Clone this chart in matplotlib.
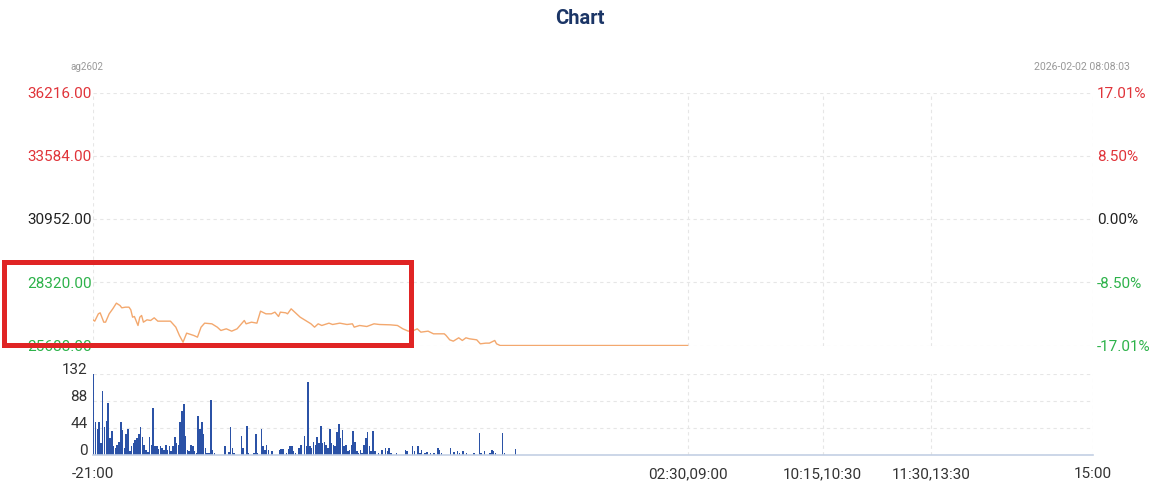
import numpy as np
import matplotlib.pyplot as plt
from matplotlib.patches import Rectangle

# -----------------------------------------
# Data (minutes since 21:00 session open)
# -----------------------------------------
session_ticks = [0, 330, 405, 465, 555]
session_labels = ["-21:00", "02:30,09:00", "10:15,10:30", "11:30,13:30", "15:00"]

pre_close = 30952.0
price_ticks = [25688.0, 28320.0, 30952.0, 33584.0, 36216.0]
volume_ticks = [0, 44, 88, 132]

price_minutes = [0, 1, 3, 4, 6, 7, 9, 11, 13, 15, 16, 18, 20, 21, 22, 23, 25, 26, 27, 28,
                 30, 32, 34, 36, 39, 43, 46, 48, 50, 52, 56, 58, 60, 62, 66, 69, 71, 74, 77, 80,
                 84, 85, 88, 91, 93, 96, 99, 101, 103, 104, 107, 108, 110, 112, 115, 118, 121, 123, 125, 127,
                 131, 133, 137, 141, 144, 145, 148, 152, 156, 159, 165, 169, 172, 175, 178, 180, 182, 186, 189, 195,
                 196, 198, 200, 203, 205, 207, 209, 213, 215, 218, 220, 223, 224, 226, 330]
price_values = [26756, 26701, 27006, 27048, 26659, 26659, 27006, 27214, 27450, 27353,
                27256, 27283, 27283, 27173, 26867, 26895, 26521, 26867, 26937, 26659,
                26756, 26729, 26840, 26701, 26701, 26701, 26451, 26104, 25827, 26202,
                26104, 26035, 26451, 26618, 26590, 26451, 26313, 26382, 26285, 26382,
                26729, 26590, 26659, 26618, 27117, 27006, 27006, 27076, 26895, 27076,
                27048, 27006, 27214, 27076, 26867, 26729, 26590, 26451, 26590, 26521,
                26618, 26562, 26618, 26562, 26590, 26451, 26521, 26479, 26590, 26562,
                26548, 26521, 26382, 26285, 26313, 26382, 26243, 26285, 26174, 26174,
                26105, 25924, 25869, 26008, 25897, 26008, 25966, 25924, 25758, 25786,
                25786, 25897, 25758, 25688, 25688]

volume = [132, 54, 43, 54, 19, 104, 46, 55, 84, 28, 39, 15, 11, 16, 22, 54, 41, 11, 35, 43,
          6, 14, 19, 24, 27, 35, 45, 30, 16, 8, 5, 30, 16, 76, 14, 14, 10, 14, 12, 8,
          17, 8, 15, 6, 15, 30, 19, 17, 54, 72, 83, 31, 8, 6, 16, 14, 6, 3, 64, 42,
          53, 35, 12, 3, 4, 90, 8, 4, 0, 0, 0, 0, 0, 15, 0, 5, 46, 12, 4, 0,
          0, 0, 31, 11, 0, 48, 4, 0, 0, 4, 35, 4, 0, 43, 15, 8, 17, 8, 0, 6,
          0, 0, 0, 8, 10, 10, 0, 4, 10, 14, 15, 6, 4, 0, 12, 16, 0, 31, 14, 119,
          14, 11, 22, 16, 30, 19, 47, 19, 22, 16, 12, 42, 19, 16, 14, 38, 50, 28, 41, 14,
          17, 6, 8, 17, 39, 21, 6, 4, 8, 4, 16, 28, 38, 14, 6, 39, 6, 0, 4, 0,
          8, 0, 12, 6, 11, 4, 0, 0, 3, 0, 0, 0, 0, 8, 6, 0, 0, 14, 6, 0,
          14, 4, 8, 0, 4, 5, 0, 4, 0, 4, 0, 11, 8, 4, 0, 0, 0, 0, 12, 0,
          5, 0, 6, 4, 0, 6, 0, 4, 0, 0, 0, 4, 0, 0, 36, 4, 0, 6, 0, 0,
          4, 8, 6, 4, 0, 0, 0, 36, 4, 0, 0, 0, 0, 0, 10, 0]

# -----------------------------------------
# Style
# -----------------------------------------
plt.rcParams["font.family"] = ["Roboto", "DejaVu Sans"]
up_color = "#e0343a"
down_color = "#2db24a"
grid_color = "#e6e6e6"

fig = plt.figure(figsize=(11.59, 5.0), dpi=100)
fig.patch.set_facecolor("white")

ax_price = fig.add_axes([0.0802, 0.309, 0.8628, 0.506])
ax_vol = fig.add_axes([0.0802, 0.090, 0.8628, 0.162])

# -----------------------------------------
# Price panel
# -----------------------------------------
ax_price.plot(price_minutes, price_values, color="#f3a86e", lw=1.0)
ax_price.set_xlim(session_ticks[0], session_ticks[-1])
ax_price.set_ylim(price_ticks[0], price_ticks[-1])
ax_price.set_yticks(price_ticks)
ax_price.set_yticklabels([f"{p:.2f}" for p in price_ticks])
ax_price.set_xticks(session_ticks)
ax_price.set_xticklabels([])
ax_price.tick_params(length=0, pad=1, labelsize=11)
for lbl, p in zip(ax_price.get_yticklabels(), price_ticks):
    lbl.set_color(up_color if p > pre_close else down_color if p < pre_close else "#222222")
ax_price.grid(True, color=grid_color, lw=0.8, ls=(0, (3, 3)))
for s in ax_price.spines.values():
    s.set_visible(False)

ax_pct = ax_price.twinx()
ax_pct.set_ylim(ax_price.get_ylim())
ax_pct.set_yticks(price_ticks)
ax_pct.set_yticklabels([f"{(p - pre_close) / pre_close * 100:.2f}%" for p in price_ticks])
ax_pct.tick_params(length=0, pad=3, labelsize=11)
for lbl, p in zip(ax_pct.get_yticklabels(), price_ticks):
    lbl.set_color(up_color if p > pre_close else down_color if p < pre_close else "#222222")
for s in ax_pct.spines.values():
    s.set_visible(False)

# -----------------------------------------
# Volume panel
# -----------------------------------------
ax_vol.set_axisbelow(True)
ax_vol.bar(np.arange(len(volume)), volume, width=0.85, align="edge", color="#2b52a6", lw=0)
ax_vol.set_xlim(session_ticks[0], session_ticks[-1])
ax_vol.set_ylim(volume_ticks[0], volume_ticks[-1])
ax_vol.set_yticks(volume_ticks)
ax_vol.set_xticks(session_ticks)
ax_vol.set_xticklabels(session_labels, fontsize=12.3)
ax_vol.tick_params(length=0, labelsize=11, colors="#333333")
ax_vol.tick_params(axis="x", pad=9)
ax_vol.tick_params(axis="y", pad=4)
for lbl in ax_vol.get_yticklabels():
    lbl.set_verticalalignment("baseline")
ax_vol.grid(True, color=grid_color, lw=0.8, ls=(0, (3, 3)))
for name, s in ax_vol.spines.items():
    s.set_visible(name == "bottom")
ax_vol.spines["bottom"].set_color("#c3d0e4")
ax_vol.spines["bottom"].set_linewidth(1.2)

# -----------------------------------------
# Titles, captions and highlight box
# -----------------------------------------
fig.text(0.5, 0.964, "Chart", ha="center", va="center", fontsize=14.5,
         fontweight="bold", color="#1b3566")
fig.text(0.075, 0.866, "ag2602", ha="center", va="center", fontsize=7, color="#999999")
fig.text(0.975, 0.866, "2026-02-02 08:08:03", ha="right", va="center", fontsize=7.6, color="#999999")

fig.add_artist(Rectangle((0.0035, 0.311), 0.3507, 0.166, transform=fig.transFigure,
                         fill=False, edgecolor="#e02424", lw=3.6, zorder=10))

fig.savefig("out.png", dpi=100)
